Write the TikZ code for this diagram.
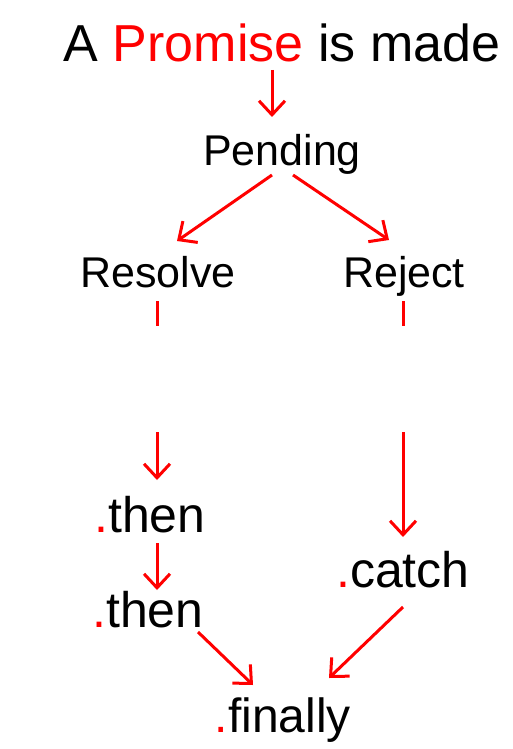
\documentclass[tikz,border=0pt]{standalone}
\usepackage{fontspec}
\setmainfont{Liberation Sans}
\usetikzlibrary{positioning,arrows.meta}
\definecolor{promisered}{RGB}{255,0,0}
\newcommand\calldot{\textcolor{promisered}{.}}

\begin{document}
\begin{tikzpicture}[
  x=1pt, y=1pt,
  headline/.style={inner sep=0pt,font=\fontsize{52pt}{62pt}\selectfont},
  state/.style={inner sep=0pt,font=\fontsize{43pt}{52pt}\selectfont},
  method/.style={inner sep=0pt,font=\fontsize{50pt}{60pt}\selectfont},
  flow/.style={draw=promisered,line width=3pt,-{Straight Barb[length=14pt,width=26pt]}},
  broken/.style={flow,dash pattern=on 25pt off 106pt on 400pt}
]
\useasboundingbox (0,0) rectangle (513,-749);
\node[headline,anchor=base] (made) at (282,-62) {A \textcolor{promisered}{Promise} is made};
\node[state,below=103pt of made.base,anchor=base] (pending) {Pending};
\node[state,below left=122pt and 124pt of pending.base,anchor=base] (resolve) {Resolve};
\node[state,below right=122pt and 122pt of pending.base,anchor=base] (reject) {Reject};
\node[method,below left=245pt and 8pt of resolve.base,anchor=base] (then1) {\calldot then};
\node[method,below left=95pt and 2pt of then1.base,anchor=base] (then2) {\calldot then};
\node[method,below left=300pt and 1pt of reject.base,anchor=base] (catch) {\calldot catch};
\node[method,font=\fontsize{48pt}{58pt}\selectfont,below right=105pt and 135pt of then2.base,anchor=base] (finally) {\calldot finally};
\path ([xshift=-10pt,yshift=-8pt]made.base) edge[flow] ([xshift=-10pt,yshift=48pt]pending.base)
([xshift=-10pt,yshift=-10pt]pending.base) edge[flow] ([xshift=19pt,yshift=46pt]resolve.base)
([xshift=11pt,yshift=-10pt]pending.base) edge[flow] ([xshift=-15pt,yshift=47pt]reject.base)
([xshift=-1pt,yshift=-14pt]resolve.base) edge[broken] ([xshift=7pt,yshift=52pt]then1.base)
([xshift=-1pt,yshift=-14pt]reject.base) edge[broken] ([yshift=50pt]catch.base)
([xshift=7pt,yshift=-11pt]then1.base) edge[flow] ([xshift=9pt,yshift=37pt]then2.base)
([xshift=50pt,yshift=-5pt]then2.base) edge[flow] ([xshift=-30pt,yshift=47pt]finally.base)
([yshift=-20pt]catch.base) edge[flow] ([xshift=46pt,yshift=54pt]finally.base);
\end{tikzpicture}
\end{document}
